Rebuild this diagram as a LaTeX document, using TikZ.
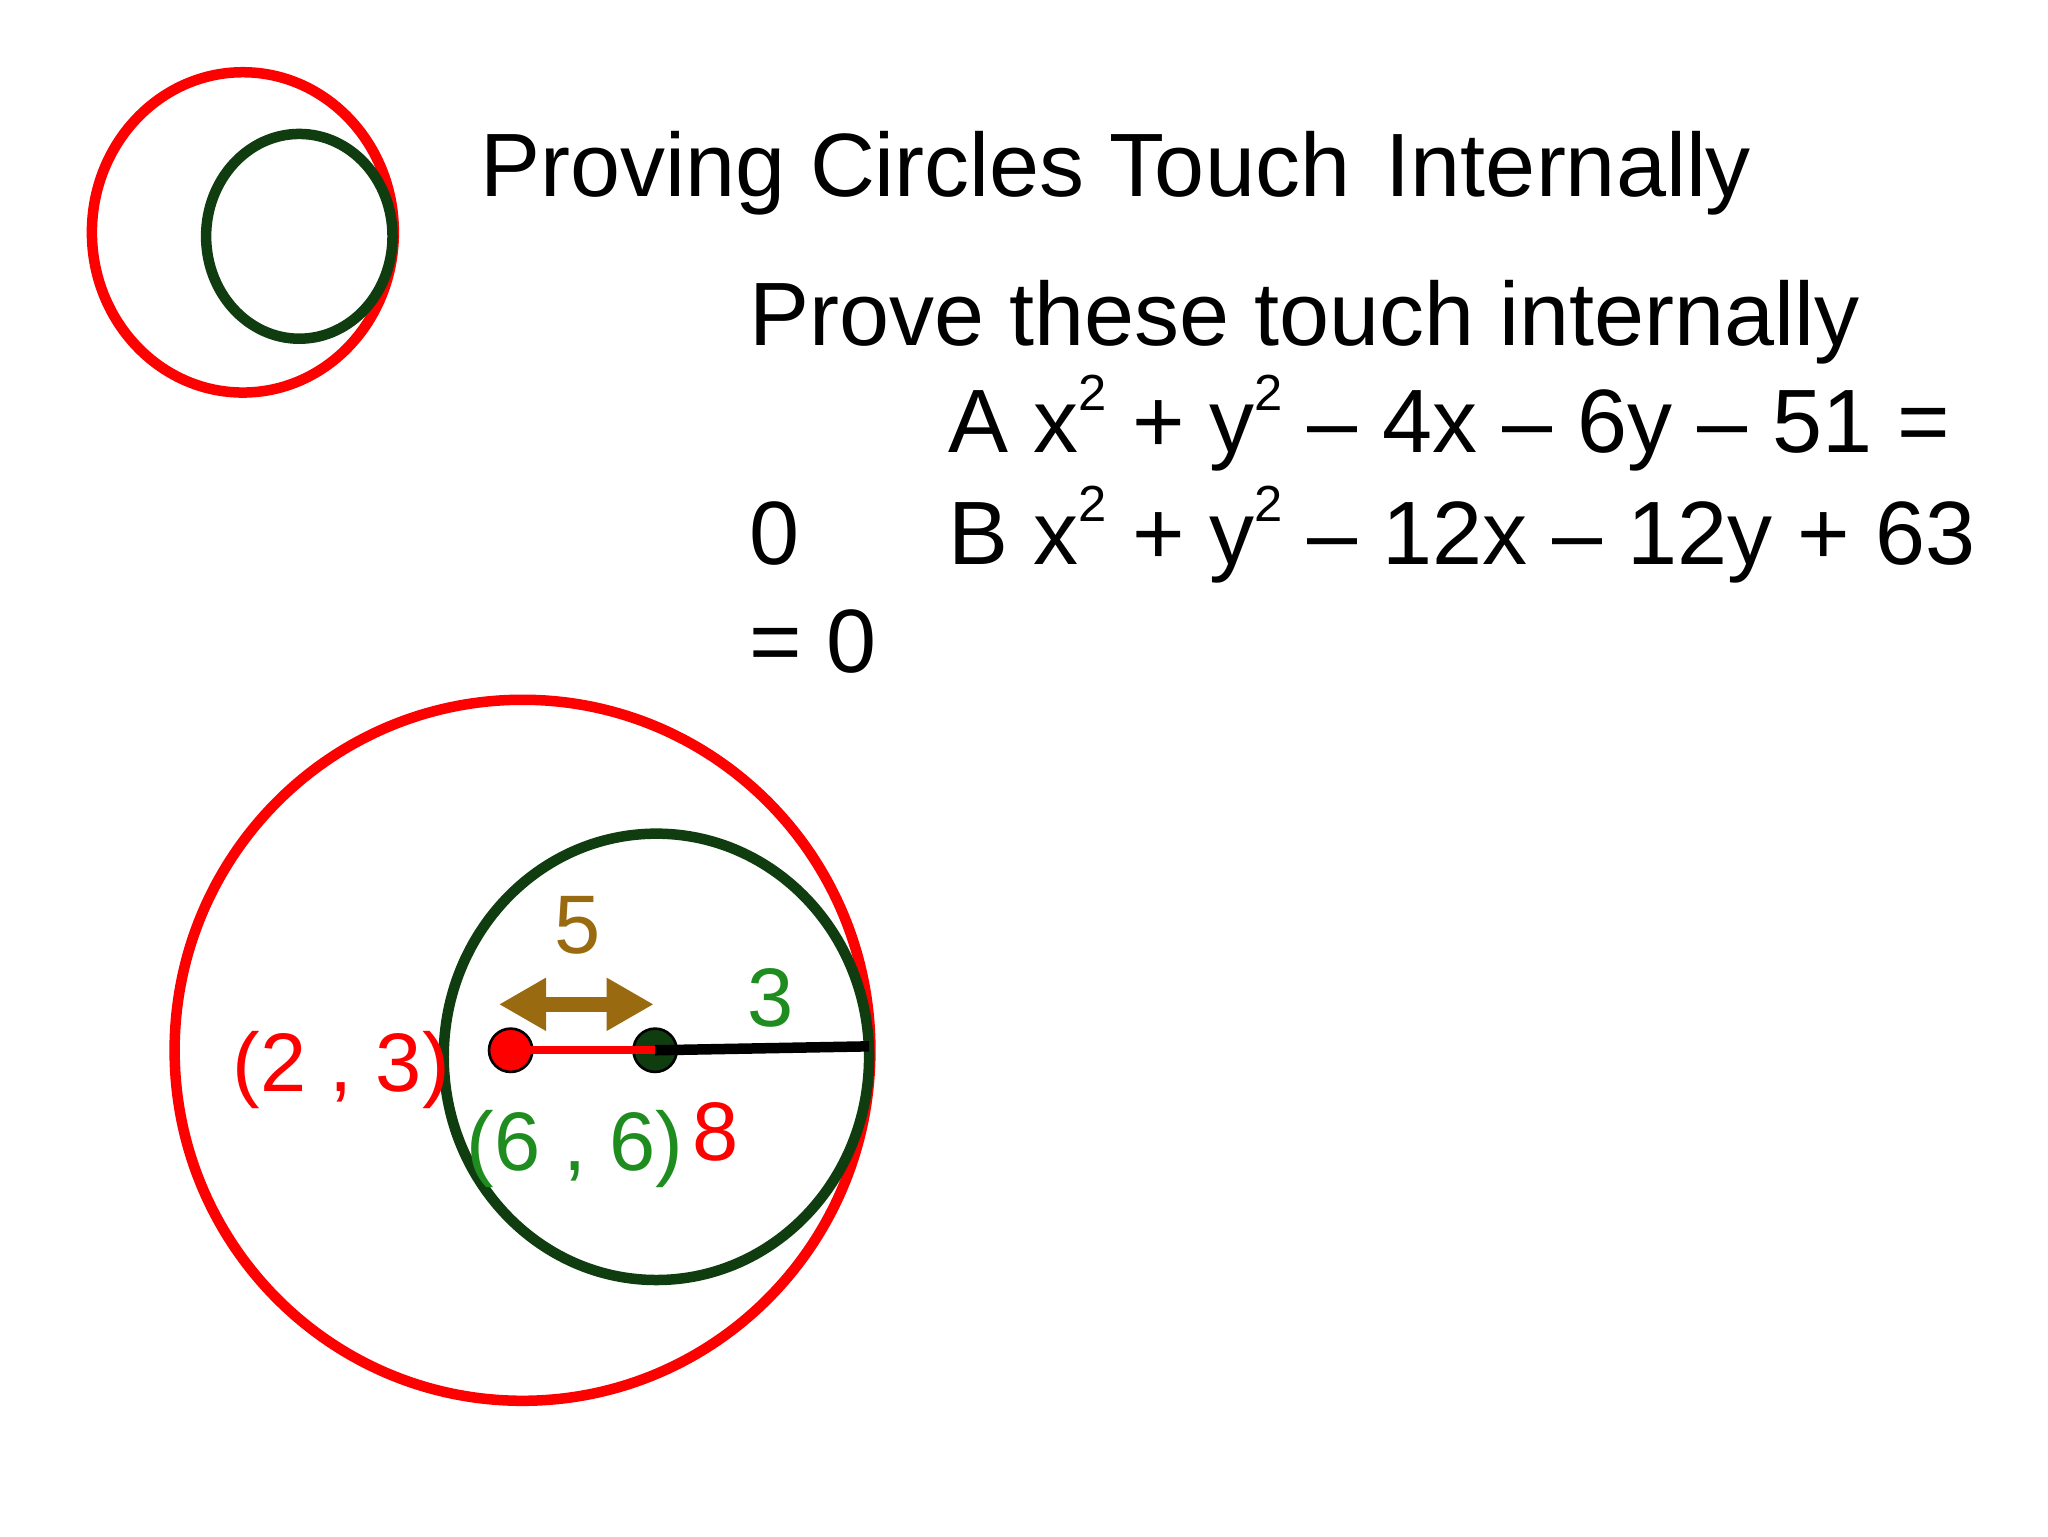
\documentclass[tikz,border=0pt]{standalone}
\usepackage{fontspec}
\setmainfont{Liberation Sans}
\usetikzlibrary{arrows.meta}
\definecolor{dgreen}{HTML}{0F3D0F}
\definecolor{lgreen}{HTML}{1E8C1E}
\definecolor{brown}{HTML}{9A6A10}
\newcommand{\sq}{\raisebox{0.9ex}{\fontsize{11}{11}\selectfont 2}}
\begin{document}
\begin{tikzpicture}[x=0.1mm,y=-0.1mm,
  redc/.style={draw=red,line width=0.8mm},
  grnc/.style={draw=dgreen,line width=0.8mm},
  big/.style={font=\fontsize{19.5}{24}\selectfont,anchor=base west,inner sep=0},
  lab/.style={font=\fontsize{18}{22}\selectfont}]
\useasboundingbox[fill=white] (0,0) rectangle (1560,1170);
% small icon
\draw[redc] (185,177) ellipse [x radius=115,y radius=122];
\draw[grnc] (228,180) ellipse [x radius=71,y radius=78];
% text
\node[big] (t1) at (365,150) {Proving Circles Touch\hspace{0.4em}Internally};
\node[big] (t2) at (570,263) {Prove these touch internally};
\node[big] (t3) at (722,345) {A x\sq{} + y\sq{} – 4x – 6y – 51 =};
\node[big] (t4) at (570,430) {0};
\node[big] (t5) at (722,430) {B x\sq{} + y\sq{} – 12x – 12y + 63};
\node[big] (t6) at (570,512) {= 0};
% big circles
\draw[redc] (398,800) ellipse [x radius=265,y radius=267];
\draw[grnc] (500,805) ellipse [x radius=162,y radius=170];
\coordinate (rim) at (662,797);
\node[circle,fill=red,draw=black,line width=0.2mm,minimum size=3.3mm,inner sep=0] (c1) at (389,800) {};
\node[circle,fill=dgreen,draw=black,line width=0.2mm,minimum size=3.3mm,inner sep=0] (c2) at (499,800) {};
\draw[red,line width=0.6mm] (c1.center) -- (c2.center);
\draw[black,line width=0.8mm] (c2.center) -- (rim);
\coordinate (a1) at (380,765);
\coordinate (a2) at (498,765);
\draw[brown,line width=1.1mm,{Triangle[length=3.6mm 0,width=3.8mm 0]}-{Triangle[length=3.6mm 0,width=3.8mm 0]}] (a1) -- (a2);
\node[lab,text=brown] (n5) at (440,705) {5};
\node[lab,text=lgreen] (n3) at (587,760) {3};
\node[lab,text=red] (p1) at (260,815) {(2 , 3)};
\node[lab,text=lgreen] (p2) at (438,875) {(6 , 6)};
\node[lab,text=red] (n8) at (545,862) {8};
\end{tikzpicture}
\end{document}
